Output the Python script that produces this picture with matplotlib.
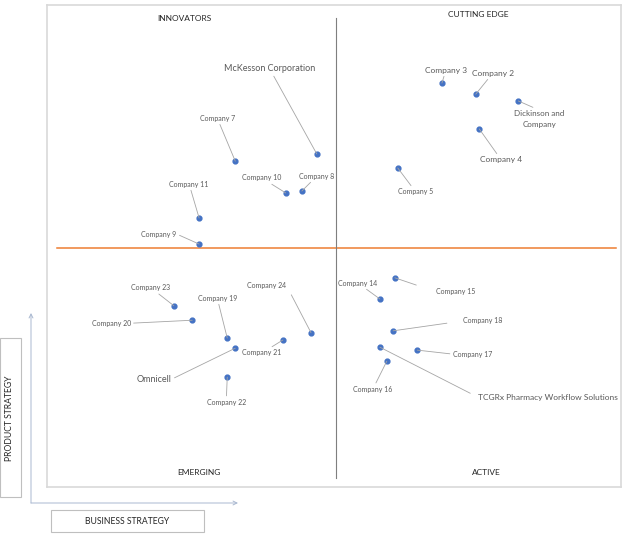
import matplotlib
matplotlib.use('Agg')
import matplotlib.pyplot as plt
from matplotlib.patches import Rectangle, FancyArrowPatch

plt.rcParams['font.family'] = ['Lato', 'DejaVu Sans']

# company positions: business strategy score (x), product strategy score (y)
companies = ['McKesson Corporation', 'Company 7', 'Company 10', 'Company 8', 'Company 11', 'Company 9',
             'Company 3', 'Company 2', 'Dickinson and\nCompany', 'Company 4', 'Company 5',
             'Company 23', 'Company 19', 'Company 20', 'Company 24', 'Omnicell', 'Company 21', 'Company 22',
             'Company 14', 'Company 15', 'Company 18', 'Company 17', 'TCGRx Pharmacy Workflow Solutions',
             'Company 16']
business = [4.70, 3.28, 4.16, 4.44, 2.65, 2.65,
            6.88, 7.47, 8.21, 7.53, 6.11,
            2.21, 3.14, 2.53, 4.60, 3.28, 4.11, 3.14,
            5.80, 6.06, 6.03, 6.45, 5.80, 5.92]
product = [6.91, 6.76, 6.10, 6.14, 5.58, 5.04,
           8.38, 8.15, 8.01, 7.43, 6.62,
           3.76, 3.09, 3.46, 3.20, 2.88, 3.05, 2.28,
           3.90, 4.34, 3.24, 2.84, 2.90, 2.61]

quadrants = ['INNOVATORS', 'CUTTING EDGE', 'EMERGING', 'ACTIVE']

# label offsets in pixels from the point
offsets = [(-47, 85), (-18, 43), (-24, 15), (15, 15), (-10, 34), (-40, 10),
           (4, 13), (17, 21), (21, -18), (22, -31), (18, -24),
           (-23, 18), (-10, 40), (-81, -3), (-44, 47), (-81, -31), (-21, -13), (-1, -25),
           (-22, 16), (61, -14), (90, 10), (55, -4), (168, -50), (-14, -28)]
big = {'McKesson Corporation': 6.5, 'Omnicell': 6.5, 'Company 3': 6, 'Company 2': 6,
       'Company 4': 6, 'Dickinson and\nCompany': 5.8, 'TCGRx Pharmacy Workflow Solutions': 6}
gap = {'Company 15': 13, 'Company 18': 10, 'Company 24': 3, 'TCGRx Pharmacy Workflow Solutions': 4}
anchor = {'Company 15': (0, 0.5), 'Company 18': (0, 0.5), 'Company 17': (0, 0.5),
          'TCGRx Pharmacy Workflow Solutions': (0, 0.5), 'Company 20': (1, 0.5),
          'Company 9': (1, 0.5), 'Omnicell': (1, 0.5), 'Company 24': (1, 0.5),
          'Dickinson and\nCompany': (0.5, 1)}

fig = plt.figure(figsize=(6.24, 5.34), dpi=100)
ax = fig.add_axes([47 / 624, 1 - 487 / 534, 574 / 624, 482 / 534])
ax.set_xlim(0, 10)
ax.set_ylim(0, 10)
ax.set_xticks([])
ax.set_yticks([])
for s in ax.spines.values():
    s.set_color('#D9D9D9')
    s.set_linewidth(1.2)

ax.plot([0.17, 9.91], [4.96, 4.96], color='#ED7D31', lw=1.1, zorder=1)
ax.plot([5.03, 5.03], [0.19, 9.73], color='#7F7F7F', lw=0.8, zorder=1)

ax.scatter(business, product, s=12, color='#4472C4', zorder=3)

for name, x, y, off in zip(companies, business, product, offsets):
    ax.annotate(name, (x, y), xytext=off, textcoords='offset pixels',
                ha='center', va='center', fontsize=big.get(name, 5), color='#595959',
                linespacing=1.6,
                arrowprops=dict(arrowstyle='-', color='#A5A5A5', lw=0.6,
                                shrinkA=gap.get(name, 0), shrinkB=0,
                                relpos=anchor.get(name, (0.5, 0.5))))

qpos = [(0.240, 0.973), (0.751, 0.981), (0.265, 0.031), (0.765, 0.031)]
for q, (qx, qy) in zip(quadrants, qpos):
    ax.text(qx, qy, q, transform=ax.transAxes, ha='center', va='center',
            fontsize=6, color='#262626')

# axis captions and arrows outside the frame
fig.patches.append(Rectangle((0.0, 0.069), 0.034, 0.298, transform=fig.transFigure,
                             fill=False, edgecolor='#BFBFBF', lw=0.8))
fig.text(0.016, 0.217, 'PRODUCT STRATEGY', rotation=90, ha='center', va='center',
         fontsize=6.2, color='#262626')
fig.patches.append(Rectangle((0.082, 0.003), 0.245, 0.042, transform=fig.transFigure,
                             fill=False, edgecolor='#BFBFBF', lw=0.8))
fig.text(0.204, 0.024, 'BUSINESS STRATEGY', ha='center', va='center',
         fontsize=6.2, color='#262626')

arrow = dict(arrowstyle='->', color='#A9B8D0', lw=0.7, shrinkA=0, shrinkB=0)
fig.add_artist(FancyArrowPatch((31 / 624, 1 - 503 / 534), (31 / 624, 1 - 313 / 534),
                               transform=fig.transFigure, mutation_scale=7, **arrow))
fig.add_artist(FancyArrowPatch((31 / 624, 1 - 503 / 534), (238 / 624, 1 - 503 / 534),
                               transform=fig.transFigure, mutation_scale=7, **arrow))

fig.savefig('out.png', dpi=100)
